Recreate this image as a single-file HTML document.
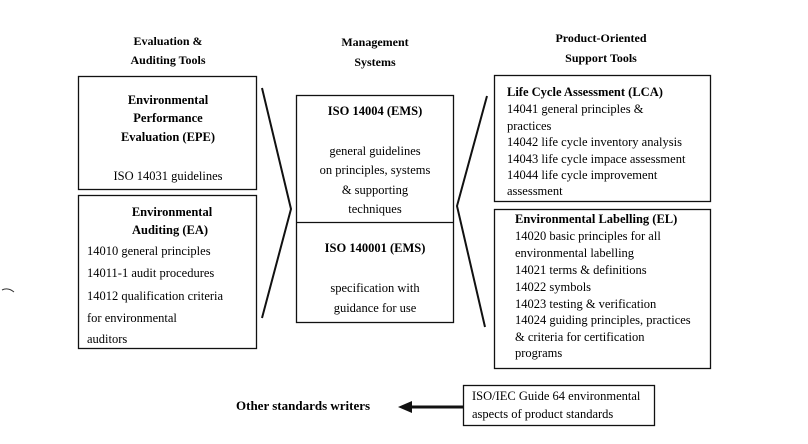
<!DOCTYPE html>
<html><head><meta charset="utf-8"><style>
html,body{margin:0;padding:0;background:#fff;}
#c{position:relative;width:808px;height:444px;overflow:hidden;font-family:"Liberation Serif",serif;font-size:12.5px;color:#000;}
.t{position:absolute;white-space:nowrap;line-height:14px;}
.c{transform:translateX(-50%);}
.b{font-weight:bold;}
.h{font-weight:bold;font-size:12px;transform:translateX(-50%);}
</style></head><body><div id="c">
<svg width="808" height="444" style="position:absolute;left:0;top:0">
<g fill="none" stroke="#111" stroke-width="1.3">
<rect x="78.5" y="76.5" width="178" height="113"/>
<rect x="78.5" y="195.5" width="178" height="153"/>
<rect x="296.5" y="95.5" width="157" height="227"/>
<line x1="296" y1="222.5" x2="454" y2="222.5"/>
<rect x="494.5" y="75.5" width="216" height="126"/>
<rect x="494.5" y="209.5" width="216" height="159"/>
<rect x="463.5" y="385.5" width="191" height="40"/>
</g>
<g fill="none" stroke="#111" stroke-width="2">
<polyline points="262,88 291,209 262,318"/>
<polyline points="487,96 457,206 485,327"/>
<line x1="463" y1="407" x2="410" y2="407" stroke-width="3"/>
</g>
<polygon points="398,407 412,401 412,413" fill="#111"/>
<path d="M2,290 q6,-3 12,2" stroke="#333" fill="none"/>
</svg>
<div class="t h" style="left:168px;top:34px">Evaluation &amp;</div>
<div class="t h" style="left:168px;top:53px">Auditing Tools</div>
<div class="t h" style="left:375px;top:35px">Management</div>
<div class="t h" style="left:375px;top:55px">Systems</div>
<div class="t h" style="left:601px;top:31px">Product-Oriented</div>
<div class="t h" style="left:601px;top:51px">Support Tools</div>

<div class="t c b" style="left:168px;top:93px">Environmental</div>
<div class="t c b" style="left:168px;top:111px">Performance</div>
<div class="t c b" style="left:168px;top:130px">Evaluation (EPE)</div>
<div class="t c" style="left:168px;top:169px">ISO 14031 guidelines</div>

<div class="t c b" style="left:172px;top:205px">Environmental</div>
<div class="t c b" style="left:170px;top:223px">Auditing (EA)</div>
<div class="t" style="left:87px;top:244px">14010 general principles</div>
<div class="t" style="left:87px;top:266px">14011-1 audit procedures</div>
<div class="t" style="left:87px;top:289px">14012 qualification criteria</div>
<div class="t" style="left:87px;top:311px">for environmental</div>
<div class="t" style="left:87px;top:332px">auditors</div>

<div class="t c b" style="left:375px;top:104px">ISO 14004 (EMS)</div>
<div class="t c" style="left:375px;top:144px">general guidelines</div>
<div class="t c" style="left:375px;top:163px">on principles, systems</div>
<div class="t c" style="left:375px;top:183px">&amp; supporting</div>
<div class="t c" style="left:375px;top:202px">techniques</div>
<div class="t c b" style="left:375px;top:241px">ISO 140001 (EMS)</div>
<div class="t c" style="left:375px;top:281px">specification with</div>
<div class="t c" style="left:375px;top:301px">guidance for use</div>

<div class="t b" style="left:507px;top:85px">Life Cycle Assessment (LCA)</div>
<div class="t" style="left:507px;top:102px">14041 general principles &amp;</div>
<div class="t" style="left:507px;top:119px">practices</div>
<div class="t" style="left:507px;top:135px">14042 life cycle inventory analysis</div>
<div class="t" style="left:507px;top:152px">14043 life cycle impace assessment</div>
<div class="t" style="left:507px;top:168px">14044 life cycle improvement</div>
<div class="t" style="left:507px;top:184px">assessment</div>

<div class="t b" style="left:515px;top:212px">Environmental Labelling (EL)</div>
<div class="t" style="left:515px;top:229px">14020 basic principles for all</div>
<div class="t" style="left:515px;top:246px">environmental labelling</div>
<div class="t" style="left:515px;top:263px">14021 terms &amp; definitions</div>
<div class="t" style="left:515px;top:280px">14022 symbols</div>
<div class="t" style="left:515px;top:297px">14023 testing &amp; verification</div>
<div class="t" style="left:515px;top:313px">14024 guiding principles, practices</div>
<div class="t" style="left:515px;top:330px">&amp; criteria for certification</div>
<div class="t" style="left:515px;top:346px">programs</div>

<div class="t b" style="left:236px;top:399px;font-size:13px">Other standards writers</div>
<div class="t" style="left:472px;top:389px">ISO/IEC Guide 64 environmental</div>
<div class="t" style="left:472px;top:407px">aspects of product standards</div>
</div></body></html>
